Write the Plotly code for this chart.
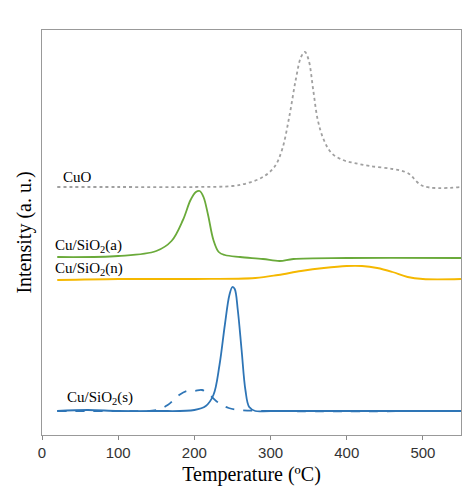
import plotly.graph_objects as go

# Intensity in arbitrary units (offset stacked)
cuo_t = [20, 100, 200, 250, 270, 290, 305, 315, 325, 333, 340, 345, 350, 356, 362, 370, 380, 395, 410, 430, 460, 480, 500, 550]
cuo_i = [248, 248, 248, 249, 252, 258, 268, 285, 320, 355, 378, 383, 375, 345, 315, 295, 282, 275, 272, 269, 266, 262, 249, 248]

a_t = [20, 100, 150, 170, 185, 195, 202, 207, 212, 218, 225, 232, 240, 260, 290, 312, 330, 400, 550]
a_i = [178, 179, 184, 194, 215, 235, 243, 244, 238, 220, 195, 183, 180, 178, 176, 174, 176, 177, 177]

n_t = [20, 100, 200, 280, 310, 340, 370, 400, 420, 440, 460, 480, 500, 550]
n_i = [155, 156, 156, 157, 160, 164, 167, 169, 169, 167, 163, 158, 156, 156]

s_t = [20, 60, 100, 150, 200, 215, 225, 233, 240, 246, 250, 253, 257, 262, 267, 272, 280, 300, 550]
s_i = [24, 25, 24, 24, 25, 29, 40, 70, 110, 140, 148, 146, 125, 85, 45, 28, 24, 24, 24]

sd_t = [20, 100, 150, 165, 180, 190, 200, 210, 220, 232, 245, 260, 300, 550]
sd_i = [24, 24, 25, 30, 40, 44, 44, 45, 40, 32, 27, 25, 24, 24]

fig = go.Figure()
fig.add_trace(go.Scatter(x=cuo_t, y=cuo_i, mode="lines", line=dict(color="#a0a0a0", width=1.8, dash="dot", shape="spline")))
fig.add_trace(go.Scatter(x=a_t, y=a_i, mode="lines", line=dict(color="#6aaa3a", width=1.8, shape="spline")))
fig.add_trace(go.Scatter(x=n_t, y=n_i, mode="lines", line=dict(color="#f5b800", width=1.8, shape="spline")))
fig.add_trace(go.Scatter(x=sd_t, y=sd_i, mode="lines", line=dict(color="#2e75b6", width=1.8, dash="dash", shape="spline")))
fig.add_trace(go.Scatter(x=s_t, y=s_i, mode="lines", line=dict(color="#2e75b6", width=1.8, shape="spline")))

labels = [("CuO", 25, 248), ("Cu/SiO<sub>2</sub>(a)", 15, 178), ("Cu/SiO<sub>2</sub>(n)", 15, 155), ("Cu/SiO<sub>2</sub>(s)", 30, 26)]
for txt, x, y in labels:
    fig.add_annotation(x=x, y=y, text=txt, showarrow=False, xanchor="left", yanchor="bottom",
                       font=dict(family="Liberation Serif", size=15, color="black"))

fig.update_layout(
    width=474, height=490, margin=dict(l=34, r=21, t=22, b=63),
    plot_bgcolor="white", paper_bgcolor="white", showlegend=False,
    font=dict(family="Liberation Serif", color="black"),
    xaxis=dict(range=[0, 550], tickvals=[0, 100, 200, 300, 400, 500], ticks="outside", ticklen=4,
               tickcolor="#888", showgrid=False, zeroline=False, showline=True, linecolor="#999", mirror=True,
               automargin=False,
               tickfont=dict(size=15, family="Liberation Sans", color="#333"),
               title=dict(text="Temperature (ºC)", font=dict(size=20, family="Liberation Serif"), standoff=6)),
    yaxis=dict(range=[0, 405], showticklabels=False, ticks="", showgrid=False, zeroline=False,
               showline=True, linecolor="#999", mirror=True, automargin=False,
               title=dict(text="Intensity (a. u.)", font=dict(size=20, family="Liberation Serif"), standoff=4)),
)
fig.write_html("out.html")
